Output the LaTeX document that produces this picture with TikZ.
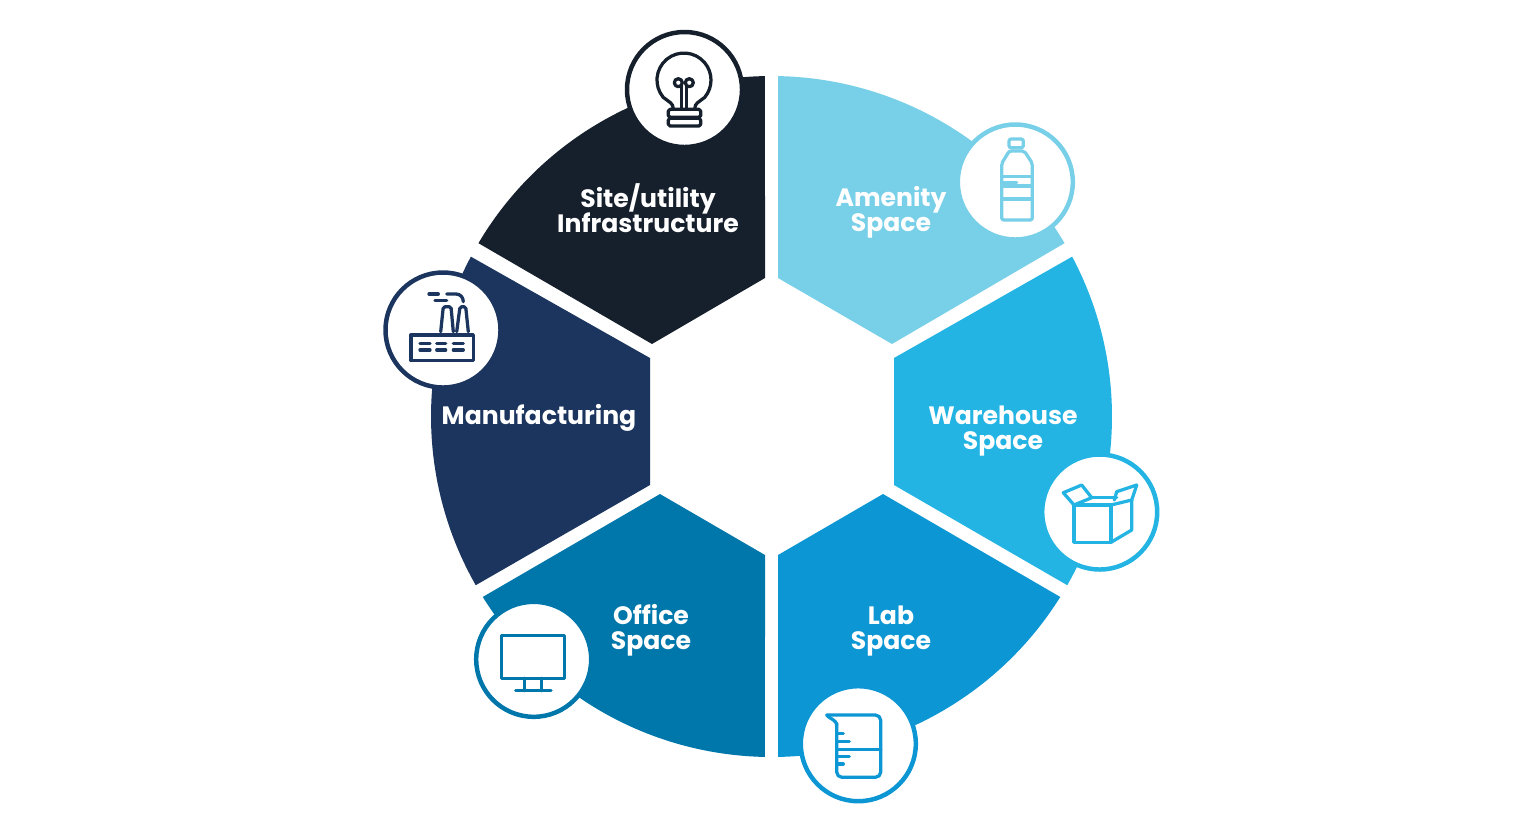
\documentclass[tikz,border=0pt]{standalone}
\usepackage{fontspec}
\setmainfont{Poppins}
\usetikzlibrary{calc}
\setlength{\lineskiplimit}{-20pt}
\definecolor{siteblue}{HTML}{16202C}
\definecolor{factblue}{HTML}{1C355E}
\definecolor{officeblue}{HTML}{0077AB}
\definecolor{labblue}{HTML}{0D96D4}
\definecolor{wareblue}{HTML}{23B4E3}
\definecolor{amenblue}{HTML}{78CFE8}
\tikzset{
    disc/.style={fill=white, line width=2.55pt},
    icon/.style={line width=1.85pt, line join=round, line cap=round},
    sectorname/.style={text=white, align=center, font=\fontsize{14.3}{14.2}\selectfont\bfseries},
  }
\begin{document}
\begin{tikzpicture}[x=0.02cm,y=-0.02cm]
    \useasboundingbox (0,0) rectangle (1537,833);
    \coordinate (C) at (771.5,416.5);
    %secteurs
    \fill[amenblue] ($(C)+(-88.9:340.5)$) arc[start angle=-88.9, end angle=-30.6, radius=340.5] -- (892,344) -- (778,278) -- cycle;
    \fill[wareblue] ($(C)+(-28:340.5)$) arc[start angle=-28, end angle=29.7, radius=340.5] -- (894,485) -- (894,358) -- cycle;
    \fill[labblue] ($(C)+(32:340.5)$) arc[start angle=32, end angle=88.9, radius=340.5] -- (778,555) -- (883,494) -- cycle;
    \fill[officeblue] ($(C)+(91.1:340.5)$) arc[start angle=91.1, end angle=148, radius=340.5] -- (660,494) -- (765,555) -- cycle;
    \fill[factblue] ($(C)+(150.3:340.5)$) arc[start angle=150.3, end angle=208, radius=340.5] -- (650,358) -- (650,485) -- cycle;
    \fill[siteblue] ($(C)+(210.6:340.5)$) arc[start angle=210.6, end angle=268.9, radius=340.5] -- (765,278) -- (652,344) -- cycle;
    %disques
    \draw[disc,draw=siteblue] (684.5,89.5) circle (57.5);
    \draw[disc,draw=amenblue] (1015.3,182) circle (57.5);
    \draw[disc,draw=wareblue] (1099.7,512) circle (57.5);
    \draw[disc,draw=labblue] (858.3,743.7) circle (57.5);
    \draw[disc,draw=officeblue] (533.7,659.3) circle (57.5);
    \draw[disc,draw=factblue] (443,330) circle (57.5);
    %ampoule
    \draw[icon,siteblue] (673.3,109) .. controls (673.3,103) and (669,102) .. (663.3,97.4) arc[start angle=140, end angle=400, radius=27] .. controls (699,102) and (694.7,103) .. (694.7,109);
    \draw[icon,siteblue,rounded corners=1pt] (668.3,109.3) rectangle (700.7,117.3);
    \draw[icon,siteblue,rounded corners=1pt] (668.3,118.3) rectangle (700.7,126);
    \draw[icon,siteblue] (678.3,82.7) circle (4);
    \draw[icon,siteblue] (689.3,82.7) circle (4);
    \draw[icon,siteblue] (681.7,86) -- (681.7,109);
    \draw[icon,siteblue] (686.7,86) -- (686.7,109);
    %bouteille
    \draw[icon,amenblue,rounded corners=1.2pt] (1009,139) rectangle (1023.3,147.7);
    \draw[icon,amenblue,rounded corners=1.2pt] (1009.3,151) -- (1001.7,163.3) -- (1001.7,220) -- (1032.3,220) -- (1032.3,163.3) -- (1024.3,151) -- cycle;
    \draw[icon,amenblue] (1001.7,176.7) -- (1032.3,176.7);
    \draw[icon,amenblue] (1001.7,186) -- (1032.3,186);
    \draw[icon,amenblue] (1001.7,199) -- (1032.3,199);
    \draw[icon,amenblue] (1001.7,182.3) -- (1016.7,182.3);
    %carton
    \draw[icon,wareblue] (1074,505) rectangle (1111,542.3);
    \draw[icon,wareblue] (1111,542.3) -- (1131.7,530) -- (1131.7,500);
    \draw[icon,wareblue] (1074,505) -- (1063.3,492.7) -- (1081.7,485) -- (1091.7,497.7) -- (1074,505);
    \draw[icon,wareblue] (1091.7,497.7) -- (1116.7,497.7);
    \draw[icon,wareblue] (1111,505) -- (1131.7,500) -- (1136.7,485) -- (1116.7,491.7) -- (1114.3,500);
    %becher
    \draw[icon,labblue,rounded corners=3pt] (826.7,715) -- (880.7,715) -- (880.7,777.3) -- (836.7,777.3) -- (836.7,723.3);
    \draw[icon,labblue] (826.7,715) .. controls (829,719) and (836.7,719) .. (836.7,726);
    \draw[icon,labblue] (836.7,749.3) -- (880.7,749.3);
    \draw[icon,labblue] (836.7,733.3) -- (843.3,733.3);
    \draw[icon,labblue] (836.7,741.3) -- (849.3,741.3);
    \draw[icon,labblue] (836.7,756.7) -- (849.3,756.7);
    \draw[icon,labblue] (836.7,764) -- (843.3,764);
    %ecran
    \draw[icon,officeblue] (501.7,635.7) rectangle (564.3,678.3);
    \draw[icon,officeblue] (524.3,678.3) -- (524.3,690.7);
    \draw[icon,officeblue] (541.7,678.3) -- (541.7,690.7);
    \draw[icon,officeblue] (515.7,690.7) -- (551,690.7);
    %usine
    \draw[icon,factblue] (411,335) rectangle (473.3,360.7);
    \foreach \yy in {343.3,350}{
      \draw[icon,factblue] (420,\yy) -- (430,\yy);
      \draw[icon,factblue] (436.7,\yy) -- (445.7,\yy);
      \draw[icon,factblue] (453.3,\yy) -- (463.3,\yy);
    }
    \draw[icon,factblue,rounded corners=1pt] (440.7,331.7) -- (443.3,306.7) -- (451,306.7) -- (453.3,331.7);
    \draw[icon,factblue,rounded corners=1pt] (456.7,331.7) -- (460,306.7) -- (465.7,306.7) -- (468.3,331.7);
    \draw[icon,factblue] (429,294) -- (438.3,294);
    \draw[icon,factblue] (446.7,294) -- (456,294) .. controls (460,294) and (463.3,297) .. (463.3,301.7);
    \draw[icon,factblue] (435,300.7) -- (446.7,300.7);
    %noms
    \node[sectorname] (site) at (648,208) {Site/utility\\Infrastructure};
    \node[sectorname] (amenity) at (891,212) {Amenity\\Space};
    \node[sectorname] (warehouse) at (1003,431) {Warehouse\\Space};
    \node[sectorname] (lab) at (891,631) {Lab\\Space};
    \node[sectorname] (office) at (651,630) {Office\\Space};
    \node[sectorname] (manufacturing) at (539,418) {Manufacturing};
\end{tikzpicture}
\end{document}
